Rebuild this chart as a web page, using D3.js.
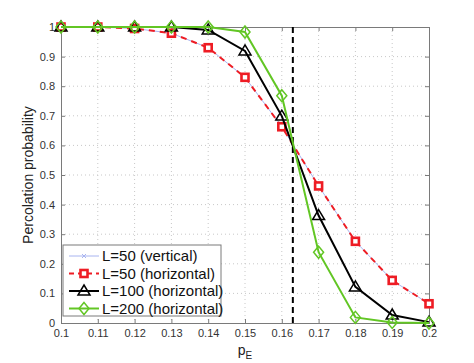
<!DOCTYPE html>
<html>
<head>
<meta charset="utf-8">
<script src="https://cdnjs.cloudflare.com/ajax/libs/d3/7.8.5/d3.min.js"></script>
<style>
body { margin: 0; background: #fff; }
svg text { font-family: "Liberation Sans", Arial, sans-serif; }
</style>
</head>
<body>
<div id="chart"></div>
<script>
var pE = [0.10, 0.11, 0.12, 0.13, 0.14, 0.15, 0.16, 0.17, 0.18, 0.19, 0.20];
var L50v = [1, 1, 0.995, 0.979, 0.930, 0.830, 0.663, 0.463, 0.276, 0.144, 0.065];
var L50h = [1, 1, 0.995, 0.979, 0.930, 0.830, 0.663, 0.463, 0.276, 0.144, 0.065];
var L100h = [1, 1, 1, 1, 0.990, 0.919, 0.699, 0.363, 0.122, 0.027, 0.003];
var L200h = [1, 1, 1, 1, 1, 0.983, 0.768, 0.239, 0.019, 0.002, 0];
var xTicks = [0.1, 0.11, 0.12, 0.13, 0.14, 0.15, 0.16, 0.17, 0.18, 0.19, 0.2];
var yTicks = [0, 0.1, 0.2, 0.3, 0.4, 0.5, 0.6, 0.7, 0.8, 0.9, 1];
var pc = 0.163;

var series = [
    { name: "L=50 (vertical)", values: L50v, color: "#a8b4f0", width: 1, dash: null, marker: "x" },
    { name: "L=50 (horizontal)", values: L50h, color: "#ee1c24", width: 2, dash: "6,5", marker: "square" },
    { name: "L=100 (horizontal)", values: L100h, color: "#000000", width: 2, dash: null, marker: "triangle" },
    { name: "L=200 (horizontal)", values: L200h, color: "#62c624", width: 2, dash: null, marker: "diamond" }
];

var W = 474, H = 363;
var margin = { top: 27, right: 45, bottom: 40, left: 61 },
    width = W - margin.left - margin.right,
    height = H - margin.top - margin.bottom;

var svg = d3.select("#chart").append("svg")
    .attr("width", W)
    .attr("height", H)
    .append("g")
    .attr("transform", "translate(" + margin.left + "," + margin.top + ")");

var xScale = d3.scaleLinear().domain([0.1, 0.2]).range([0, width]);
var yScale = d3.scaleLinear().domain([0, 1]).range([height, 0]);

// grid
svg.append("g").selectAll("line").data(xTicks.slice(1, -1)).enter().append("line")
    .attr("x1", function(d) { return xScale(d); })
    .attr("x2", function(d) { return xScale(d); })
    .attr("y1", 0).attr("y2", height)
    .attr("stroke", "#c8c8c8").attr("stroke-dasharray", "1,3");
svg.append("g").selectAll("line").data(yTicks.slice(1, -1)).enter().append("line")
    .attr("y1", function(d) { return yScale(d); })
    .attr("y2", function(d) { return yScale(d); })
    .attr("x1", 0).attr("x2", width)
    .attr("stroke", "#c8c8c8").attr("stroke-dasharray", "1,3");

// axes, MATLAB style inward ticks
var fmt = function(d) { return d3.format("")(+d.toFixed(2)); };
var xAxis = d3.axisBottom(xScale).tickValues(xTicks).tickSize(-4).tickPadding(6).tickFormat(fmt);
var yAxis = d3.axisLeft(yScale).tickValues(yTicks).tickSize(-4).tickPadding(6).tickFormat(fmt);

svg.append("g").attr("class", "axis")
    .attr("transform", "translate(0," + height + ")")
    .call(xAxis);
svg.append("g").attr("class", "axis")
    .call(yAxis);
svg.append("g").attr("class", "axis")
    .call(d3.axisTop(xScale).tickValues(xTicks).tickSize(-4).tickFormat(""));
svg.append("g").attr("class", "axis")
    .attr("transform", "translate(" + width + ",0)")
    .call(d3.axisRight(yScale).tickValues(yTicks).tickSize(-4).tickFormat(""));

svg.selectAll(".axis path").attr("stroke", "#7a7a7a");
svg.selectAll(".axis line").attr("stroke", "#7a7a7a");
svg.selectAll(".axis text").attr("fill", "#333").style("font-size", "11px");

// critical point
svg.append("line")
    .attr("x1", xScale(pc)).attr("x2", xScale(pc))
    .attr("y1", 0).attr("y2", height)
    .attr("stroke", "#000").attr("stroke-width", 2).attr("stroke-dasharray", "6,4");

function drawMarker(g, type, x, y, color) {
    if (type === "x") {
        g.append("path").attr("d", "M" + (x - 2) + "," + (y - 2) + "L" + (x + 2) + "," + (y + 2) + "M" + (x - 2) + "," + (y + 2) + "L" + (x + 2) + "," + (y - 2))
            .attr("stroke", color).attr("stroke-width", 1).attr("fill", "none");
    } else if (type === "square") {
        g.append("rect").attr("x", x - 3.5).attr("y", y - 3.5).attr("width", 7).attr("height", 7)
            .attr("fill", "#fff").attr("stroke", color).attr("stroke-width", 2.6);
    } else if (type === "triangle") {
        g.append("path").attr("d", "M" + x + "," + (y - 6) + "L" + (x + 6) + "," + (y + 4) + "L" + (x - 6) + "," + (y + 4) + "Z")
            .attr("fill", "none").attr("stroke", color).attr("stroke-width", 1.5);
    } else if (type === "diamond") {
        g.append("path").attr("d", "M" + x + "," + (y - 6) + "L" + (x + 5) + "," + y + "L" + x + "," + (y + 6) + "L" + (x - 5) + "," + y + "Z")
            .attr("fill", "none").attr("stroke", color).attr("stroke-width", 1.5);
    }
}

var line = d3.line()
    .x(function(d, i) { return xScale(pE[i]); })
    .y(function(d) { return yScale(d); });

var drawOrder = [0, 1, 2, 3];
drawOrder.forEach(function(k) {
    var s = series[k];
    var g = svg.append("g");
    g.append("path").datum(s.values)
        .attr("d", line)
        .attr("fill", "none")
        .attr("stroke", s.color)
        .attr("stroke-width", s.width)
        .attr("stroke-dasharray", s.dash);
    s.values.forEach(function(v, i) {
        drawMarker(g, s.marker, xScale(pE[i]), yScale(v), s.color);
    });
});

// legend
var legend = svg.append("g").attr("transform", "translate(2,218)");
legend.append("rect").attr("width", 158).attr("height", 71)
    .attr("fill", "#fff").attr("stroke", "#7a7a7a");
series.forEach(function(s, i) {
    var yy = 11 + i * 17.5;
    legend.append("line").attr("x1", 6).attr("x2", 36).attr("y1", yy).attr("y2", yy)
        .attr("stroke", s.color).attr("stroke-width", s.width)
        .attr("stroke-dasharray", s.dash ? "5,4" : null);
    drawMarker(legend, s.marker, 21, yy, s.color);
    legend.append("text").attr("x", 39).attr("y", yy).attr("dy", "0.35em")
        .style("font-size", "15px").attr("fill", "#111").text(s.name);
});

// labels
svg.append("text")
    .attr("transform", "rotate(-90)")
    .attr("x", -height / 2).attr("y", -28)
    .attr("text-anchor", "middle")
    .style("font-size", "14px").attr("fill", "#222")
    .text("Percolation probability");

var xl = svg.append("text")
    .attr("x", width / 2).attr("y", height + 32)
    .attr("text-anchor", "middle")
    .style("font-size", "14px").attr("fill", "#222");
xl.append("tspan").text("p");
xl.append("tspan").attr("dy", 4).style("font-size", "10px").text("E");
</script>
</body>
</html>
